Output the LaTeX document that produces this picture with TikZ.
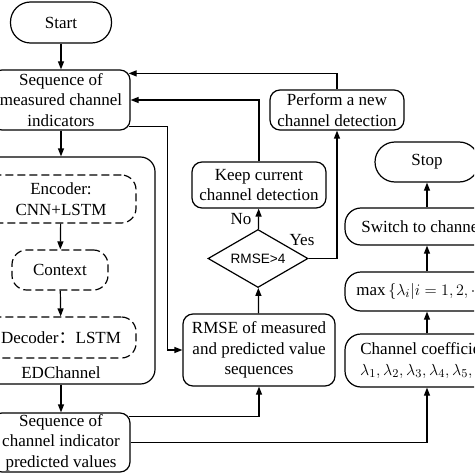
\documentclass[tikz,border=0pt]{standalone}
\usepackage{fontspec}
\setmainfont{Liberation Serif}
\newfontfamily\armsans{Liberation Sans}
\newfontfamily\cjkfont{Noto Sans CJK SC}
\usetikzlibrary{arrows.meta,shapes.geometric,calc}

\tikzset{every picture/.style={line width=0.9pt}}
\tikzset{
  box/.style={draw, rounded corners=7.5pt, align=center, inner sep=0pt},
  termbox/.style={box, rounded corners=15pt},
  pillbox/.style={box, rounded corners=12pt, minimum width=123pt},
  dbox/.style={box, dash pattern=on 6pt off 3pt, rounded corners=11pt},
  arr/.style={-{Triangle[length=6pt,width=4.5pt]}},
}

\begin{document}
\begin{tikzpicture}[x=0.75pt,y=0.75pt,yscale=-1,xscale=1,font=\fontsize{12.75}{15.5}\selectfont]
\useasboundingbox (0,0) rectangle (474,474);
\clip (0,0) rectangle (474,474);

% Left column
\node[termbox, minimum width=75.75pt, minimum height=30.75pt] (start) at (61,22.5) {Start};
\node[box, minimum width=103.5pt, minimum height=45pt] (seq) at (61,100) {Sequence of\\measured channel\\indicators};
\node[box, rounded corners=11pt, minimum width=141pt, minimum height=170.25pt] (edc) at (61,270.5) {};
\node[dbox, minimum width=112.5pt, minimum height=36pt] (enc) at (61,199) {Encoder:\\CNN+LSTM};
\node[dbox, minimum width=72pt, minimum height=30pt] (ctx) at (60,270) {Context};
\node[dbox, minimum width=112.5pt, minimum height=30.75pt] (dec) at (61,337.5) {Decoder{\cjkfont ：}LSTM};
\node[inner sep=0pt] (edcl) at (61,373) {EDChannel};
\node[box, minimum width=103.5pt, minimum height=44.25pt] (pred) at (61,442.5) {Sequence of\\channel indicator\\predicted values};

% Middle column
\node[box, minimum width=114pt, minimum height=54pt] (rmse) at (259,350) {RMSE of measured\\and predicted value\\sequences};
\node[draw, diamond, aspect=1.72, inner sep=0pt, minimum width=75pt, minimum height=43.5pt, font=\armsans\fontsize{10.2}{12}\selectfont] (dia) at (258,258.5) {RMSE>4};
\node[box, minimum width=100.5pt, minimum height=34.5pt] (keep) at (259,185) {Keep current\\channel detection};
\node[box, minimum width=100.5pt, minimum height=30pt] (perform) at (337,110) {Perform a new\\channel detection};

% Right column
\node[termbox, minimum width=78pt, minimum height=30pt] (stop) at (427,162) {Stop};
\node[pillbox, minimum height=27.75pt] (switch) at (427,226.5) {Switch to channel $i$};
\node[pillbox, minimum height=29.25pt] (maxb) at (427,291.5) {$\max\left\{\lambda_i \middle| i=1,2,\cdots\right\}$};
\node[pillbox, minimum height=39.75pt] (coef) at (427,360.5) {Channel coefficient\\$\lambda_1,\lambda_2,\lambda_3,\lambda_4,\lambda_5,\cdots$};

% Labels
\node[inner sep=0pt] (nolab) at (241,219) {No};
\node[inner sep=0pt] (yeslab) at (302,240) {Yes};

% Free ends on the rounded boxes
\coordinate (seqin) at ($(seq.north east)+(-2,4)$);
\coordinate (seqout) at ($(seq.south east)+(-2,-4)$);
\coordinate (predout) at ($(pred.north east)+(-2,4)$);

% Straight Lines
\draw[arr] (start) -- (seq);
\draw[arr] (seq) -- (edc);
\draw[arr] (enc) -- (ctx);
\draw[arr] (ctx) -- (dec);
\draw[arr] (edc) -- (pred);
\draw[arr] (seqout) -| ($(rmse.west)+(-15,0)$) -- (rmse.west);
\draw[arr] (predout) -| (rmse.south);
\draw[arr] (pred.east) -| (coef.south);
\draw[arr] (rmse) -- (dia);
\draw[arr] (dia) -- (keep);
\draw[arr] (dia.east) -| (perform.south);
\draw[arr] (keep.north) |- (seq.east);
\draw[arr] (perform.north) |- (seqin);
\draw[arr] (coef) -- (maxb);
\draw[arr] (maxb) -- (switch);
\draw[arr] (switch) -- (stop);

\end{tikzpicture}
\end{document}
